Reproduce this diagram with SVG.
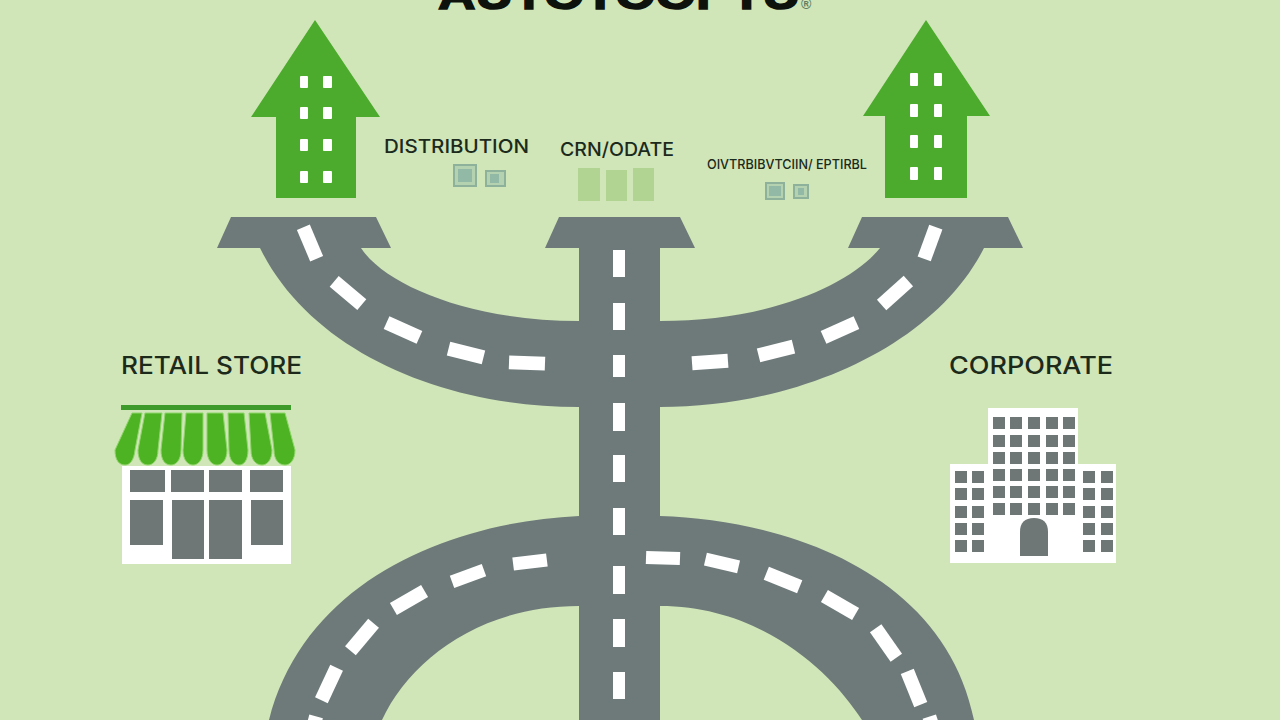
<svg xmlns="http://www.w3.org/2000/svg" width="1280" height="720" viewBox="0 0 1280 720">
<style>
.road{fill:#6e7a7a}
.dash{fill:#fff}
.gb{fill:#4cab2d}
.win{fill:#fff}
.gw{fill:#6e7676}
.st{fill:#4db322;stroke:#8fd56a;stroke-width:1}
.lab{font-family:Inter,"Liberation Sans",Arial,sans-serif;fill:#1c2a1c;font-weight:500}
.ic{fill:#b4d2b0;stroke:#8db19a;stroke-width:2}
.in{fill:#92b8a6}
.bl{fill:#b2d493}
</style>
<rect id="background" width="1280" height="720" fill="#d0e6b8"/>
<g id="title">
<text x="438" y="9" font-size="42" font-weight="700" font-family="Liberation Sans,Arial,sans-serif" textLength="362" lengthAdjust="spacingAndGlyphs" fill="#0d120d" stroke="#0d120d" stroke-width="1.5">AUTOTOOPTU</text>
<text x="801" y="9" font-size="14" font-weight="700" font-family="Liberation Sans,Arial,sans-serif" fill="#5f7d60">®</text>
</g>
<g id="connectors">
<path class="road" d="M231 217H376L391 248H361C385 285 470 321 579 321V407C440 407 310 350 260 248H217Z"/>
<path class="road" d="M1008 217H862L848 248H880C850 285 770 321 660 321V407C800 407 935 345 984 248H1023Z"/>
<path class="road" d="M559 217H680L695 248H660V720H579V248H545Z"/>
<path class="road" d="M579 516C450 522 305 580 269 720H382C410 660 480 606 579 606Z"/>
<path class="road" d="M660 516C790 520 945 575 974 720H862C830 670 760 606 660 606Z"/>
<g class="dash">
<rect x="613" y="250" width="12" height="27"/><rect x="613" y="303" width="12" height="27"/><rect x="613" y="355" width="12" height="22"/><rect x="613" y="403" width="12" height="28"/><rect x="613" y="455" width="12" height="27"/><rect x="613" y="508" width="12" height="27"/><rect x="613" y="566" width="12" height="28"/><rect x="613" y="619" width="12" height="28"/><rect x="613" y="672" width="12" height="27"/>
<rect x="-17" y="-7" width="34" height="14" transform="translate(310 243) rotate(67)"/>
<rect x="-18" y="-7" width="36" height="14" transform="translate(348 293) rotate(40)"/>
<rect x="-18" y="-7" width="36" height="14" transform="translate(403 330) rotate(24)"/>
<rect x="-18" y="-7" width="36" height="14" transform="translate(466 353) rotate(14)"/>
<rect x="-18" y="-7" width="36" height="14" transform="translate(527 363) rotate(2)"/>
<rect x="-17" y="-7" width="34" height="14" transform="translate(930 243) rotate(-70)"/>
<rect x="-18" y="-7" width="36" height="14" transform="translate(895 293) rotate(-42)"/>
<rect x="-18" y="-7" width="36" height="14" transform="translate(840 330) rotate(-24)"/>
<rect x="-18" y="-7" width="36" height="14" transform="translate(776 351) rotate(-14)"/>
<rect x="-18" y="-7" width="36" height="14" transform="translate(710 362) rotate(-4)"/>
<rect x="-17" y="-6.500" width="34" height="13" transform="translate(530 562) rotate(-7)"/>
<rect x="-17" y="-6.500" width="34" height="13" transform="translate(468 576) rotate(-20)"/>
<rect x="-18" y="-7" width="36" height="14" transform="translate(409 600) rotate(-30)"/>
<rect x="-18" y="-7" width="36" height="14" transform="translate(362 637) rotate(-50)"/>
<rect x="-18" y="-7" width="36" height="14" transform="translate(329 684) rotate(-65)"/>
<rect x="-12" y="-7" width="24" height="14" transform="translate(313 728) rotate(-75)"/>
<rect x="-17" y="-6.500" width="34" height="13" transform="translate(663 558) rotate(2)"/>
<rect x="-17" y="-6.500" width="34" height="13" transform="translate(722 563) rotate(13)"/>
<rect x="-18" y="-7" width="36" height="14" transform="translate(783 580) rotate(22)"/>
<rect x="-18" y="-7" width="36" height="14" transform="translate(840 605) rotate(30)"/>
<rect x="-18" y="-7" width="36" height="14" transform="translate(886 643) rotate(55)"/>
<rect x="-18" y="-7" width="36" height="14" transform="translate(914 688) rotate(68)"/>
<rect x="-12" y="-7" width="24" height="14" transform="translate(933 728) rotate(72)"/>
</g>
</g>
<g id="arrow-left">
<path class="gb" d="M315 20L380 117H356V198H276V117H251Z"/>
<g class="win"><rect x="300" y="76" width="8" height="12" rx="1"/><rect x="323" y="76" width="9" height="12" rx="1"/><rect x="300" y="107" width="8" height="12" rx="1"/><rect x="323" y="107" width="9" height="12" rx="1"/><rect x="300" y="139" width="8" height="12" rx="1"/><rect x="323" y="139" width="9" height="12" rx="1"/><rect x="300" y="171" width="8" height="12" rx="1"/><rect x="323" y="171" width="9" height="12" rx="1"/></g>
</g>
<g id="arrow-right">
<path class="gb" d="M926 20L990 116H967V198H885V116H863Z"/>
<g class="win"><rect x="910" y="73" width="8" height="13" rx="1"/><rect x="934" y="73" width="8" height="13" rx="1"/><rect x="910" y="104" width="8" height="13" rx="1"/><rect x="934" y="104" width="8" height="13" rx="1"/><rect x="910" y="135" width="8" height="13" rx="1"/><rect x="934" y="135" width="8" height="13" rx="1"/><rect x="910" y="167" width="8" height="13" rx="1"/><rect x="934" y="167" width="8" height="13" rx="1"/></g>
</g>
<g id="label-distribution">
<text class="lab" x="384" y="153" font-size="19" textLength="145" lengthAdjust="spacingAndGlyphs">DISTRIBUTION</text>
<rect class="ic" x="454" y="165" width="22" height="21"/><rect class="in" x="458" y="169" width="14" height="13"/><rect class="ic" x="486" y="171" width="19" height="15"/><rect class="in" x="490" y="174" width="9" height="9"/>
</g>
<g id="label-center">
<text class="lab" x="560" y="156" font-size="19" textLength="114" lengthAdjust="spacingAndGlyphs">CRN/ODATE</text>
<rect class="bl" x="578" y="168" width="22" height="33"/><rect class="bl" x="606" y="170" width="21" height="31"/><rect class="bl" x="633" y="168" width="21" height="33"/>
</g>
<g id="label-right">
<text class="lab" x="707" y="169" font-size="13.500" textLength="160" lengthAdjust="spacingAndGlyphs">OIVTRBIBVTCIIN/ EPTIRBL</text>
<rect class="ic" x="766" y="183" width="18" height="16"/><rect class="in" x="769" y="186" width="12" height="10"/><rect class="ic" x="794" y="185" width="14" height="13"/><rect class="in" x="798" y="188" width="6" height="7"/>
</g>
<g id="retail-store">
<text class="lab" x="121" y="374" font-size="24.500" textLength="181" lengthAdjust="spacingAndGlyphs">RETAIL STORE</text>
<rect x="122" y="466" width="169" height="98" fill="#fff"/>
<g class="gw"><rect x="130" y="470" width="35" height="22"/><rect x="171" y="470" width="33" height="22"/><rect x="209" y="470" width="33" height="22"/><rect x="250" y="470" width="33" height="22"/><rect x="130" y="500" width="33" height="45"/><rect x="172" y="500" width="32" height="59"/><rect x="209" y="500" width="33" height="59"/><rect x="251" y="500" width="32" height="45"/></g>
<rect x="121" y="405" width="170" height="5" fill="#3f9a2c"/>
<path class="st" d="M132 413H142L135 450C134 460 130 465 125 465C119 465 115 460 115 450Z"/>
<path class="st" d="M145 413H162L158 450C158 460 153 465 148 465C142 465 138 460 138 450Z"/>
<path class="st" d="M165 413H182L181 450C181 460 176 465 171 465C165 465 161 460 161 450Z"/>
<path class="st" d="M186 413H203L203 450C203 460 198 465 193 465C188 465 183 460 183 450Z"/>
<path class="st" d="M207 413H223L227 450C227 460 222 465 217 465C212 465 207 460 207 450Z"/>
<path class="st" d="M228 413H244L248 450C248 460 244 465 239 465C234 465 229 460 229 450Z"/>
<path class="st" d="M249 413H265L272 450C272 460 267 465 262 465C256 465 251 460 251 450Z"/>
<path class="st" d="M270 413H285L295 450C295 460 290 465 285 465C279 465 274 460 274 450Z"/>
</g>
<g id="corporate">
<text class="lab" x="949" y="374" font-size="24.500" textLength="164" lengthAdjust="spacingAndGlyphs">CORPORATE</text>
<path d="M988 408H1078V464H1116V563H950V464H988Z" fill="#fff"/>
<g class="gw">
<rect x="993" y="417" width="12" height="12"/><rect x="1010" y="417" width="12" height="12"/><rect x="1028" y="417" width="12" height="12"/><rect x="1046" y="417" width="12" height="12"/><rect x="1063" y="417" width="12" height="12"/>
<rect x="993" y="435" width="12" height="12"/><rect x="1010" y="435" width="12" height="12"/><rect x="1028" y="435" width="12" height="12"/><rect x="1046" y="435" width="12" height="12"/><rect x="1063" y="435" width="12" height="12"/>
<rect x="993" y="452" width="12" height="12"/><rect x="1010" y="452" width="12" height="12"/><rect x="1028" y="452" width="12" height="12"/><rect x="1046" y="452" width="12" height="12"/><rect x="1063" y="452" width="12" height="12"/>
<rect x="993" y="469" width="12" height="12"/><rect x="1010" y="469" width="12" height="12"/><rect x="1028" y="469" width="12" height="12"/><rect x="1046" y="469" width="12" height="12"/><rect x="1063" y="469" width="12" height="12"/>
<rect x="993" y="486" width="12" height="12"/><rect x="1010" y="486" width="12" height="12"/><rect x="1028" y="486" width="12" height="12"/><rect x="1046" y="486" width="12" height="12"/><rect x="1063" y="486" width="12" height="12"/>
<rect x="993" y="503" width="12" height="12"/><rect x="1010" y="503" width="12" height="12"/><rect x="1028" y="503" width="12" height="12"/><rect x="1046" y="503" width="12" height="12"/><rect x="1063" y="503" width="12" height="12"/>
<rect x="955" y="471" width="12" height="12"/><rect x="972" y="471" width="12" height="12"/><rect x="955" y="488" width="12" height="12"/><rect x="972" y="488" width="12" height="12"/><rect x="955" y="506" width="12" height="12"/><rect x="972" y="506" width="12" height="12"/><rect x="955" y="523" width="12" height="12"/><rect x="972" y="523" width="12" height="12"/><rect x="955" y="540" width="12" height="12"/><rect x="972" y="540" width="12" height="12"/>
<rect x="1083" y="471" width="12" height="12"/><rect x="1101" y="471" width="12" height="12"/><rect x="1083" y="488" width="12" height="12"/><rect x="1101" y="488" width="12" height="12"/><rect x="1083" y="506" width="12" height="12"/><rect x="1101" y="506" width="12" height="12"/><rect x="1083" y="523" width="12" height="12"/><rect x="1101" y="523" width="12" height="12"/><rect x="1083" y="540" width="12" height="12"/><rect x="1101" y="540" width="12" height="12"/>
<path d="M1020 556V532Q1020 518 1034 518Q1048 518 1048 532V556Z"/>
</g>
</g>
</svg>
